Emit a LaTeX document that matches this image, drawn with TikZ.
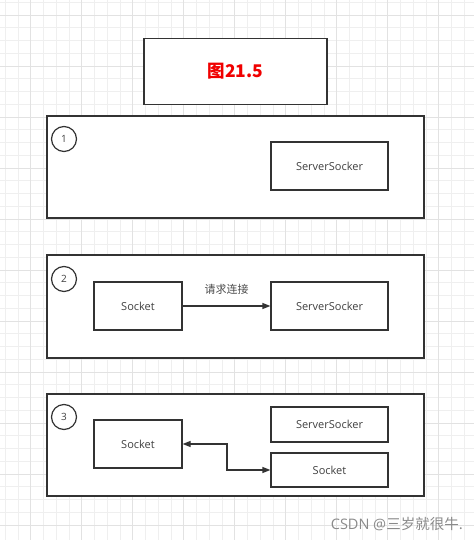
\documentclass[tikz,border=0pt]{standalone}
\usepackage{fontspec}
\setmainfont{Open Sans}
\newfontfamily\cjk{Noto Sans CJK SC}
\usetikzlibrary{arrows.meta}
\definecolor{gridminor}{HTML}{EFEFEF}
\definecolor{gridmajor}{HTML}{E2E2E2}
\definecolor{edge}{HTML}{333333}
\definecolor{titlered}{HTML}{F00000}
\definecolor{wm}{HTML}{8A8A8A}
\begin{document}
\begin{tikzpicture}[x=1pt,y=-1pt,
  frame/.style={draw=edge,line width=1.5pt,fill=white},
  inbox/.style={draw=edge,line width=1.2pt,fill=white,font=\fontsize{11}{13}\selectfont,text=black!75},
  numc/.style={draw=edge,circle,line width=1.2pt,minimum size=25pt,inner sep=0pt,font=\fontsize{10}{11}\selectfont,text=black!75},
  conn/.style={draw=edge,line width=1.2pt,-{Triangle[length=8pt,width=6pt]}},
  conn2/.style={draw=edge,line width=1.2pt,{Triangle[length=8pt,width=6pt]}-{Triangle[length=8pt,width=6pt]}}]
\useasboundingbox (0,0) rectangle (474,540);
\fill[white] (0,0) rectangle (474,540);
% grid
\foreach \i in {-4,...,40} {
  \draw[gridminor,line width=0.6pt] ({30.7+12.75*\i},0) -- ({30.7+12.75*\i},540);
  \draw[gridminor,line width=0.6pt] (0,{15+12.75*\i}) -- (474,{15+12.75*\i});
}
\foreach \i in {-1,...,10} {
  \draw[gridmajor,line width=0.8pt] ({30.7+51*\i},0) -- ({30.7+51*\i},540);
  \draw[gridmajor,line width=0.8pt] (0,{15+51*\i}) -- (474,{15+51*\i});
}
% title
\node[frame,minimum width=183pt,minimum height=66pt,inner sep=0pt] (title) at (235.5,71.5) {\cjk\bfseries\color{titlered}\fontsize{17.5}{19}\selectfont 图21.5};
% frame 1
\node[frame,minimum width=377pt,minimum height=102pt,inner sep=0pt] (f1) at (235.5,167) {};
\node[numc] (c1) at (64,139) {1};
\node[inbox,minimum width=117pt,minimum height=48pt,inner sep=0pt] (s1) at (329.5,166) {ServerSocker};
% frame 2
\node[frame,minimum width=377pt,minimum height=103pt,inner sep=0pt] (f2) at (235.5,306.5) {};
\node[numc] (c2) at (64,279) {2};
\node[inbox,minimum width=88pt,minimum height=48pt,inner sep=0pt] (k2) at (138,306) {Socket};
\node[inbox,minimum width=117pt,minimum height=48pt,inner sep=0pt] (s2) at (329.5,306) {ServerSocker};
\draw[conn] (k2) -- node[above=8pt,font=\cjk\fontsize{11}{12}\selectfont,text=black!70] (lbl) {请求连接} (s2);
% frame 3
\node[frame,minimum width=377pt,minimum height=102pt,inner sep=0pt] (f3) at (235.5,445) {};
\node[numc] (c3) at (64,417) {3};
\node[inbox,minimum width=88pt,minimum height=48pt,inner sep=0pt] (k3) at (138,444) {Socket};
\node[inbox,minimum width=117pt,minimum height=35pt,inner sep=0pt] (s3) at (329.5,424.5) {ServerSocker};
\node[inbox,minimum width=117pt,minimum height=34pt,inner sep=0pt] (k3b) at (329.5,470) {Socket};
\coordinate (m1) at (227,444);
\coordinate (m2) at (227,470);
\draw[conn2] (k3.east) -- (m1) -- (m2) -- (k3b.west);
% watermark
\node[font=\fontsize{14.5}{16}\selectfont,text=wm,anchor=east,inner sep=0pt] (wmk) at (463,524) {CSDN @{\cjk 三岁就很牛.}};
\end{tikzpicture}
\end{document}
